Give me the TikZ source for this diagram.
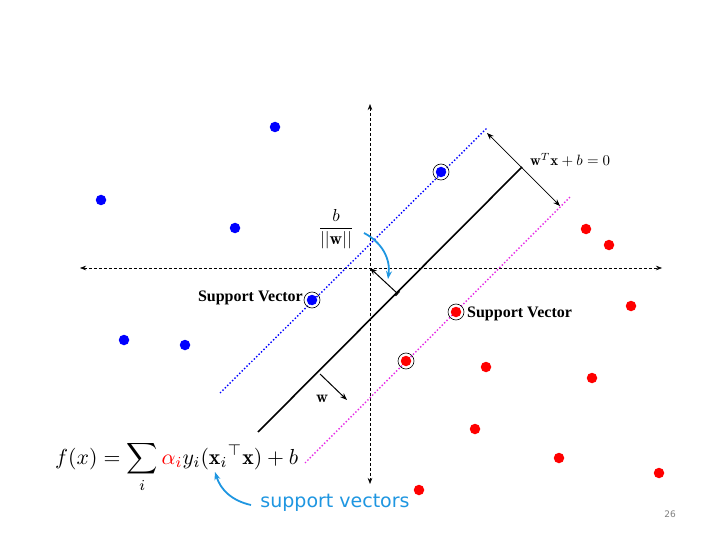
\documentclass[tikz,border=0pt]{standalone}
\usepackage{amsmath,bm}
\usepackage{fontspec}
\newfontfamily\sansf{DejaVu Sans}
\newfontfamily\timesf{Liberation Serif}
\usetikzlibrary{arrows.meta}
\definecolor{sky}{RGB}{30,150,225}
\definecolor{mag}{RGB}{230,40,230}
\begin{document}
\begin{tikzpicture}[x=1pt,y=-1pt,
  bpt/.style={circle,fill=blue,inner sep=0pt,minimum size=10.5pt},
  rpt/.style={circle,fill=red,inner sep=0pt,minimum size=10.5pt},
  sv/.style={draw=black,line width=0.6pt},
  lbl/.style={font=\timesf\bfseries\fontsize{16}{18}\selectfont, inner sep=1pt}]
\useasboundingbox (0,0) rectangle (720,540);
\fill[white] (0,0) rectangle (720,540);
% axes
\coordinate (xl) at (80,268); \coordinate (xr) at (662,268);
\coordinate (yt) at (370,104); \coordinate (yb) at (370,484);
\draw[densely dashed,line width=0.6pt,{Stealth[length=6pt]}-{Stealth[length=6pt]}] (xl) -- (xr);
\draw[densely dashed,line width=0.6pt,{Stealth[length=6pt]}-{Stealth[length=6pt]}] (yt) -- (yb);
% lines
\coordinate (b1) at (220,393); \coordinate (b2) at (487,128);
\coordinate (k1) at (258,432); \coordinate (k2) at (522,167);
\coordinate (m1) at (305,463); \coordinate (m2) at (570,197);
\draw[blue,dotted,line width=1.4pt] (b1) -- (b2);
\draw[black,line width=1.6pt] (k1) -- (k2);
\draw[mag,dotted,line width=1.4pt] (m1) -- (m2);
% margin arrows
\coordinate (d1) at (487,133); \coordinate (d2) at (560,206);
\draw[{Stealth[length=7pt]}-{Stealth[length=7pt]},line width=0.7pt] (d1) -- (d2);
\coordinate (o) at (370,268); \coordinate (p) at (398,294);
\draw[{Stealth[length=7pt]}-{Bar[width=6pt]},line width=1pt] (o) -- (p);
\coordinate (w1) at (320,374); \coordinate (w2) at (347,400);
\draw[-{Stealth[length=7pt]},line width=1pt] (w1) -- (w2);
% points
\foreach \n/\x/\y in {b1p/275/127,b2p/101/200,b3p/235/228,b4p/124/340,b5p/185/345}
  \node[bpt] (\n) at (\x,\y) {};
\foreach \n/\x/\y in {r1/586/229,r2/609/245,r3/631/306,r4/486/367,r5/592/378,r6/475/429,r7/559/458,r8/659/473,r9/419/490}
  \node[rpt] (\n) at (\x,\y) {};
\foreach \n/\x/\y/\c in {s1/441/172/blue,s2/312/300/blue,s3/456/312/red,s4/406/361/red}{
  \draw[sv] (\x,\y) circle (8pt);
  \node[circle,fill=\c,inner sep=0pt,minimum size=10.5pt] (\n) at (\x,\y) {};}
% labels
\node[lbl,anchor=east] (svl) at (304,298) {Support Vector};
\node[lbl,anchor=west] (svr) at (466,314) {Support Vector};
\node[anchor=west,inner sep=0pt] (eq) at (530,160) {\resizebox{80pt}{!}{$\mathbf{w}^T\mathbf{x}+b=0$}};
\node[inner sep=0pt] (bw) at (336,229) {\resizebox{36pt}{!}{$\dfrac{b}{||\mathbf{w}||}$}};
\node[inner sep=0pt] (wl) at (322,399) {\resizebox{12pt}{!}{$\mathbf{w}$}};
\draw[sky,line width=1.8pt,-{Stealth[length=8pt]}] (364,233) to[bend left=35] (388,279);
\node[anchor=west,inner sep=0pt] (fx) at (55,467)
  {\resizebox{243pt}{!}{$f(x)=\displaystyle\sum_i \textcolor{red}{\alpha_i} y_i(\mathbf{x}_i{}^{\top}\mathbf{x})+b$}};
\node[sky,font=\sansf\fontsize{19}{22}\selectfont] (svs) at (335,503) {support vectors};
\draw[sky,line width=1.8pt,-{Stealth[length=8pt]}] (251,505) to[bend left=30] (215,472);
\node[gray,font=\sansf\fontsize{9}{10}\selectfont] (pg) at (670,514) {26};
\end{tikzpicture}
\end{document}
